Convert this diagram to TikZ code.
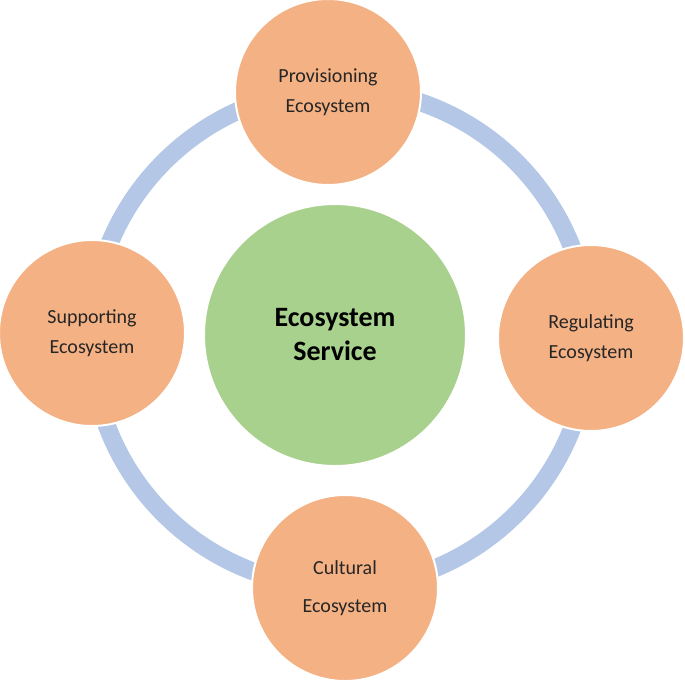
\documentclass[tikz,border=0pt]{standalone}
\usepackage{fontspec}
\setmainfont{Carlito}
\definecolor{ring}{HTML}{B4C7E7}
\definecolor{orng}{HTML}{F4B183}
\definecolor{grn}{HTML}{A9D18E}
\begin{document}
\begin{tikzpicture}[x=1pt,y=-1pt,
  sat/.style={circle,fill=orng,draw=white,line width=2pt,minimum size=186pt,align=center,font=\fontsize{20}{30}\selectfont,text=black!85}]
\useasboundingbox (0,0) rectangle (685,681);
\draw[ring,line width=18pt] (340,338) circle (249);
\node[circle,fill=grn,draw=white,line width=2pt,minimum size=262pt,align=center,font=\bfseries\fontsize{28}{34}\selectfont] (c) at (335,335) {Ecosystem\\Service};
\node[sat] (p) at (328,92) {Provisioning\\Ecosystem};
\node[sat] (r) at (591,338) {Regulating\\Ecosystem};
\node[sat] (l) at (92,333) {Supporting\\Ecosystem};
\node[sat,font=\fontsize{20}{38}\selectfont] (b) at (345,588) {Cultural\\Ecosystem};
\end{tikzpicture}
\end{document}
